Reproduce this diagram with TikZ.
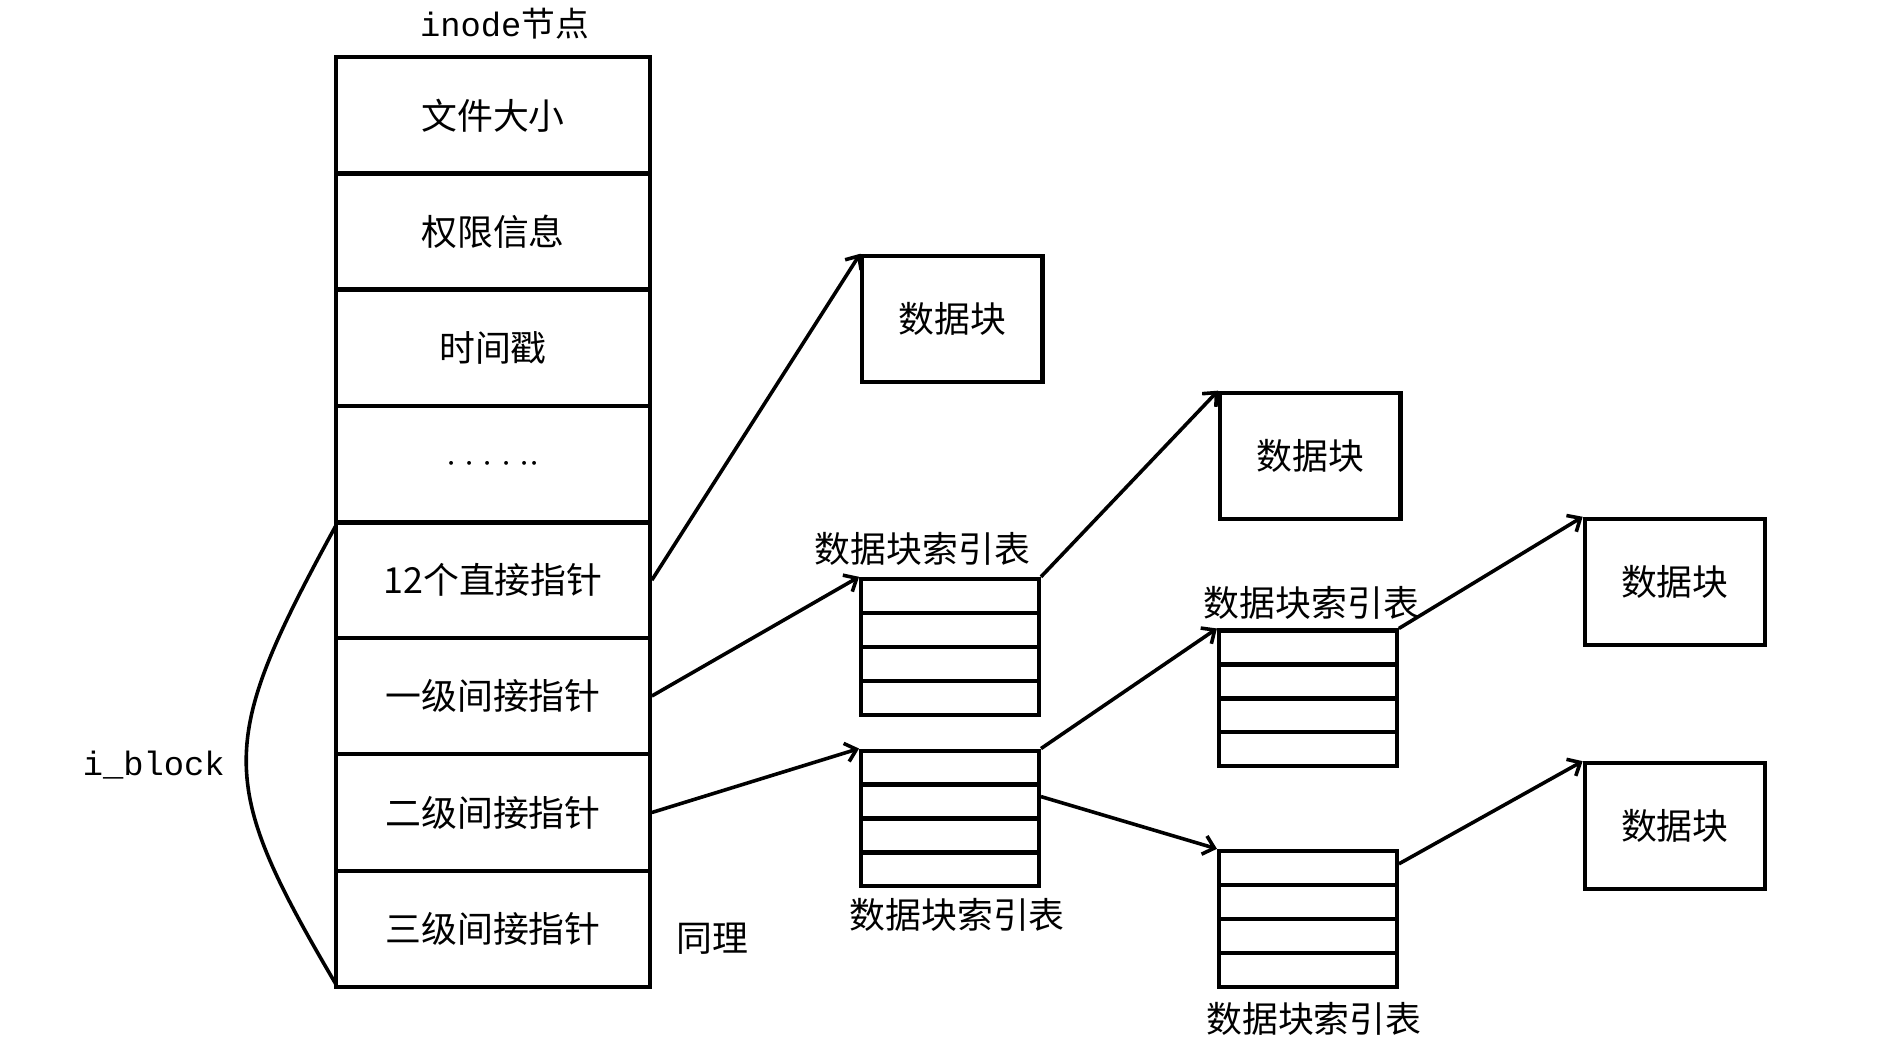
\documentclass[tikz,border=0pt]{standalone}
\usepackage{fontspec}
\setmainfont{Liberation Mono}
\newfontfamily\cjk{Noto Sans CJK SC}
\usetikzlibrary{arrows.meta}
\tikzstyle{row} = [draw=black, line width=2pt, minimum width=5.22cm, minimum height=1.94cm, inner sep=0, font=\cjk\fontsize{17}{17}\selectfont]
\tikzstyle{blk} = [draw=black, line width=2pt, minimum width=3cm, minimum height=2.1cm, inner sep=0, font=\cjk\fontsize{17}{17}\selectfont]
\tikzstyle{tbl} = [draw=black, line width=2pt, minimum width=2.96cm, minimum height=2.26cm, inner sep=0, path picture={
      \foreach \k in {1,2,3}
        \draw[line width=2pt] ([yshift=-\k*0.565cm]path picture bounding box.north west) -- ([yshift=-\k*0.565cm]path picture bounding box.north east);}]
\tikzstyle{lbl} = [font=\cjk\fontsize{17}{17}\selectfont, inner sep=0]
\tikzstyle{ptr} = [line width=1.7pt, -{Straight Barb[length=5pt,width=9pt]}]

\begin{document}
\begin{tikzpicture}[x=0.02cm, y=-0.02cm]
  \useasboundingbox (0,0) rectangle (1567,870);

%inode
	\node[lbl, font=\fontsize{16}{16}\selectfont] (title) at (420,20) {inode{\cjk 节点}};
	\node[row] (r1) at (410.5,96) {文件大小};
	\node[row] (r2) at (410.5,193) {权限信息};
	\node[row] (r3) at (410.5,289.5) {时间戳};
	\node[row] (r4) at (410.5,386.5) {$\cdot\cdot\cdot\cdot\cdot\cdot$};
	\node[row] (r5) at (410.5,483) {12个直接指针};
	\node[row] (r6) at (410.5,579.5) {一级间接指针};
	\node[row] (r7) at (410.5,676.5) {二级间接指针};
	\node[row] (r8) at (410.5,773.5) {三级间接指针};
	\node[lbl] (same) at (593,782) {同理};

%i_block
	\coordinate (bt) at (280,437);
	\coordinate (bb) at (280,820);
	\node[font=\fontsize{16}{16}\selectfont, inner sep=0] (iblk) at (128,637) {i\_block};
	\draw[line width=1.7pt] (bt) .. controls (180,620) and (180,650) .. (bb);

%blocks and tables
	\node[blk] (d1) at (793,265.5) {数据块};
	\node[blk] (d2) at (1091,379.5) {数据块};
	\node[blk] (d3) at (1394.5,484.5) {数据块};
	\node[blk] (d4) at (1394.5,688) {数据块};
	\node[tbl] (t1) at (791,538.5) {};
	\node[tbl] (t2) at (791,681.5) {};
	\node[tbl] (t3) at (1089,581.5) {};
	\node[tbl] (t4) at (1089,765) {};
	\node[lbl] (l1) at (768,457) {数据块索引表};
	\node[lbl] (l2) at (797,762) {数据块索引表};
	\node[lbl] (l3) at (1092,502) {数据块索引表};
	\node[lbl] (l4) at (1094,848) {数据块索引表};

%pointers
	\draw[ptr] (r5.east) -- (d1.north west);
	\draw[ptr] (r6.east) -- (t1.north west);
	\draw[ptr] (r7.east) -- (t2.north west);
	\draw[ptr] (t1.north east) -- (d2.north west);
	\draw[ptr] (t2.north east) -- (t3.north west);
	\draw[ptr] ([yshift=-0.8cm]t2.north east) -- (t4.north west);
	\draw[ptr] (t3.north east) -- (d3.north west);
	\draw[ptr] ([yshift=-0.25cm]t4.north east) -- (d4.north west);

\end{tikzpicture}
\end{document}
